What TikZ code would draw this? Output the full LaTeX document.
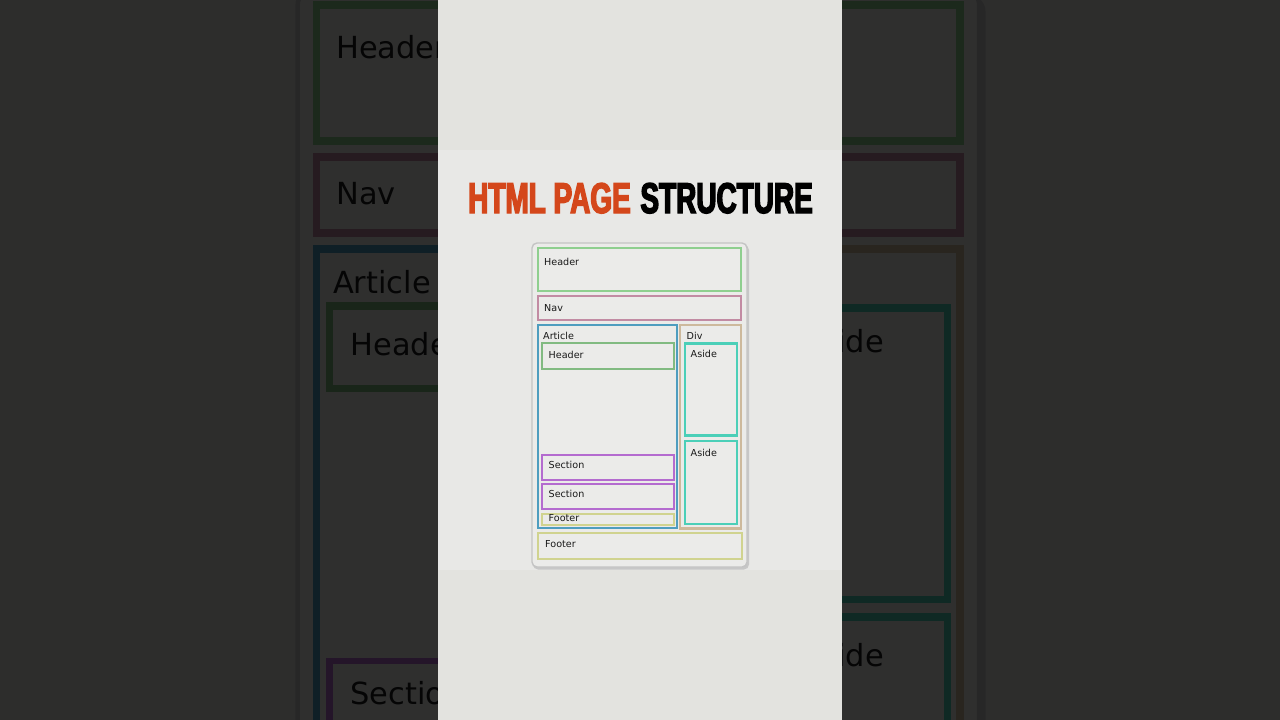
\documentclass[tikz,border=0pt]{standalone}
\usepackage{fontspec}
\usepackage{tikz}
\usetikzlibrary{positioning}

\newfontfamily\labelfont{DejaVu Sans}
\newfontfamily\titlefont[FakeStretch=0.65,FakeBold=3.2]{Liberation Sans}

\definecolor{hdrgreen}{HTML}{8FCF8F}
\definecolor{navpink}{HTML}{C28BA3}
\definecolor{artblue}{HTML}{4E9DBF}
\definecolor{divtan}{HTML}{CDB99C}
\definecolor{asideteal}{HTML}{4BCFB8}
\definecolor{secpurple}{HTML}{B46BCF}
\definecolor{ftryellow}{HTML}{D0D38F}
\definecolor{boxfill}{HTML}{EBEBE9}
\definecolor{framegray}{HTML}{C4C4C4}
\definecolor{titleorange}{HTML}{D4471B}
\definecolor{panelgray}{HTML}{E3E3DF}
\definecolor{panelmid}{HTML}{E8E8E6}

\def\lwf{1}
\tikzstyle{pagebox} = [draw=framegray, fill=boxfill, line width=\lwf*1.4pt,
  rounded corners=\lwf*5pt]
\tikzstyle{shadowbox} = [fill=black!22, rounded corners=\lwf*5pt]
\tikzstyle{tagbox} = [line width=\lwf*2.4pt]
\tikzstyle{lbl} = [anchor=base west, inner sep=0pt, text=black!90,
  font=\labelfont\fontsize{9.6}{10}\selectfont]

% the layout, in pixels of the small picture
\newcommand{\drawlayout}{%
  % page frame
  \path[shadowbox] (533,245) rectangle (749,569.5);
  \path[pagebox] (532,243) rectangle (747,567);

  % header and nav
  \draw[tagbox, hdrgreen] (538,248) rectangle (741,291);
  \path (544,265) node[lbl] (header) {Header};
  \draw[tagbox, navpink] (538,296) rectangle (741,320);
  \path (544,311) node[lbl] (nav) {Nav};

  % article
  \draw[tagbox, artblue] (538,325) rectangle (677,528);
  \path (543,339) node[lbl] (article) {Article};
  \draw[tagbox, hdrgreen!90!black] (542,343) rectangle (674,369);
  \path (548.5,358.5) node[lbl] (artheader) {Header};
  \foreach \y/\n in {455/seca,484/secb} {
    \draw[tagbox, line width=\lwf*2pt, secpurple] (542,\y) rectangle (674,\y+25);
    \path (548.5,\y+13.8) node[lbl] (\n) {Section};
  }
  \draw[tagbox, line width=\lwf*2pt, ftryellow] (542,513.5) rectangle (674,525);
  \path (548.5,521.7) node[lbl] (artfooter) {Footer};

  % div with asides
  \draw[tagbox, divtan] (680,325) rectangle (741,528.5);
  \path (686.5,339) node[lbl] (div) {Div};
  \draw[tagbox, asideteal] (685,343.5) rectangle (737,435.5);
  \path (690.5,357.7) node[lbl] (asidea) {Aside};
  \draw[tagbox, asideteal] (685,441) rectangle (737,524);
  \path (690.5,456.7) node[lbl] (asideb) {Aside};

  % footer
  \draw[tagbox, ftryellow] (538,533) rectangle (742,559);
  \path (545,547.3) node[lbl] (footer) {Footer};
}

\begin{document}
\begin{tikzpicture}[x=1pt, y=-1pt]
  \useasboundingbox (0,0) rectangle (1280,720);

  % blown up copy behind
  \begin{scope}
    \clip (0,0) rectangle (1280,720);
    \fill[panelgray] (0,0) rectangle (1280,720);
    \begin{scope}[shift={(640,360)}, scale=3.17, shift={(-640,-360)},
      transform shape]
      \def\lwf{3.17}
      \drawlayout
    \end{scope}
    \fill[black, opacity=0.8] (0,0) rectangle (1280,720);
  \end{scope}

  % middle panel
  \fill[panelgray] (438,0) rectangle (842,720);
  \fill[panelmid] (438,150) rectangle (842,570);

  % title
  \path (468,213) node[anchor=base west, inner sep=0pt, text=titleorange,
    font=\titlefont\fontsize{43}{43}\selectfont\bfseries] (titlea) {HTML PAGE};
  \path (813,213) node[anchor=base east, inner sep=0pt, text=black,
    font=\titlefont\fontsize{43}{43}\selectfont\bfseries] (titleb) {STRUCTURE};

  \drawlayout
\end{tikzpicture}
\end{document}
